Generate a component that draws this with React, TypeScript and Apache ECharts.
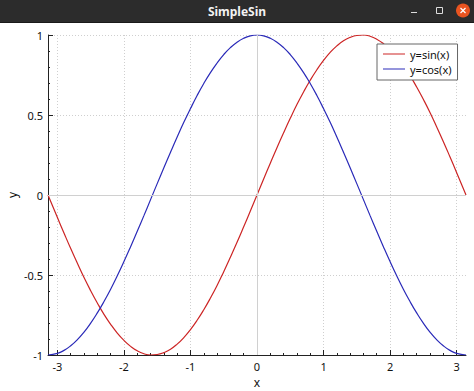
import React, { useEffect, useRef } from "react";
import * as echarts from "echarts";

// Sample points
const xValues = [
  -3.1416, -3.0, -2.9, -2.8, -2.7, -2.6, -2.5, -2.4, -2.3, -2.2, -2.1, -2.0, -1.9, -1.8, -1.7, -1.6,
  -1.5, -1.4, -1.3, -1.2, -1.1, -1.0, -0.9, -0.8, -0.7, -0.6, -0.5, -0.4, -0.3, -0.2, -0.1,
  0.0, 0.1, 0.2, 0.3, 0.4, 0.5, 0.6, 0.7, 0.8, 0.9, 1.0, 1.1, 1.2, 1.3, 1.4, 1.5,
  1.6, 1.7, 1.8, 1.9, 2.0, 2.1, 2.2, 2.3, 2.4, 2.5, 2.6, 2.7, 2.8, 2.9, 3.0, 3.1416,
];
const sinValues = [
  0.0, -0.141, -0.239, -0.335, -0.427, -0.516, -0.598, -0.675, -0.746, -0.808, -0.863, -0.909, -0.946, -0.974, -0.992, -1.0,
  -0.997, -0.985, -0.964, -0.932, -0.891, -0.841, -0.783, -0.717, -0.644, -0.565, -0.479, -0.389, -0.296, -0.199, -0.1,
  0.0, 0.1, 0.199, 0.296, 0.389, 0.479, 0.565, 0.644, 0.717, 0.783, 0.841, 0.891, 0.932, 0.964, 0.985, 0.997,
  1.0, 0.992, 0.974, 0.946, 0.909, 0.863, 0.808, 0.746, 0.675, 0.598, 0.516, 0.427, 0.335, 0.239, 0.141, 0.0,
];
const cosValues = [
  -1.0, -0.99, -0.971, -0.942, -0.904, -0.857, -0.801, -0.737, -0.666, -0.589, -0.505, -0.416, -0.323, -0.227, -0.129, -0.029,
  0.071, 0.17, 0.267, 0.362, 0.454, 0.54, 0.622, 0.697, 0.765, 0.825, 0.878, 0.921, 0.955, 0.98, 0.995,
  1.0, 0.995, 0.98, 0.955, 0.921, 0.878, 0.825, 0.765, 0.697, 0.622, 0.54, 0.454, 0.362, 0.267, 0.17, 0.071,
  -0.029, -0.129, -0.227, -0.323, -0.416, -0.505, -0.589, -0.666, -0.737, -0.801, -0.857, -0.904, -0.942, -0.971, -0.99, -1.0,
];
const seriesNames = ["y=sin(x)", "y=cos(x)"];
const xTickValues = [-3, -2, -1, 0, 1, 2, 3];
const xMinorTickValues = [
  -2.8, -2.6, -2.4, -2.2, -1.8, -1.6, -1.4, -1.2, -0.8, -0.6, -0.4, -0.2,
  0.2, 0.4, 0.6, 0.8, 1.2, 1.4, 1.6, 1.8, 2.2, 2.4, 2.6, 2.8,
];
const windowTitle = "SimpleSin";

const FONT = "Noto Sans";

export default function App() {
  const ref = useRef<HTMLDivElement>(null);

  useEffect(() => {
    if (!ref.current) return;
    const chart = echarts.init(ref.current, null, { renderer: "svg" });
    const gridLine = { show: true, lineStyle: { color: "#cfcfcf", type: [1, 2], width: 1 } };
    chart.setOption({
      animation: false,
      backgroundColor: "#ffffff",
      grid: { left: 48, top: 35, right: 8, bottom: 36, containLabel: false, outerBoundsMode: "none" },
      legend: {
        data: seriesNames,
        orient: "vertical",
        left: 377,
        top: 44,
        padding: [3, 6, 4, 6],
        itemGap: 1,
        itemWidth: 22,
        itemHeight: 1,
        icon: "rect",
        backgroundColor: "#ffffff",
        borderColor: "#666666",
        borderWidth: 1,
        borderRadius: 0,
        textStyle: { fontFamily: FONT, fontSize: 11, color: "#111", lineHeight: 14 },
      },
      xAxis: [
        {
          type: "value",
          min: xValues[0],
          max: xValues[xValues.length - 1],
          name: "x",
          nameLocation: "middle",
          nameGap: 20,
          nameMoveOverlap: false,
          nameTextStyle: { fontFamily: FONT, fontSize: 12, color: "#111", lineHeight: 14 },
          axisLine: { onZero: false, lineStyle: { color: "#222", width: 1 } },
          axisTick: { show: true, inside: true, length: 5, customValues: xTickValues, lineStyle: { color: "#222" } },
          axisLabel: { customValues: xTickValues, fontFamily: FONT, fontSize: 11, color: "#111", margin: 5, lineHeight: 12 },
          splitLine: gridLine,
        },
        {
          type: "value",
          min: xValues[0],
          max: xValues[xValues.length - 1],
          position: "bottom",
          axisLine: { show: false, onZero: false },
          axisTick: { show: true, inside: true, length: 2, customValues: xMinorTickValues, lineStyle: { color: "#222" } },
          axisLabel: { show: false },
          splitLine: { show: false },
        },
      ],
      yAxis: {
        type: "value",
        min: -1,
        max: 1,
        interval: 0.5,
        name: "y",
        nameLocation: "middle",
        nameGap: 30,
        nameMoveOverlap: false,
        nameTextStyle: { fontFamily: FONT, fontSize: 12, color: "#111" },
        axisLine: { show: true, onZero: false, lineStyle: { color: "#222", width: 1 } },
        axisTick: { show: true, inside: true, length: 5, lineStyle: { color: "#222" } },
        minorTick: { show: true, splitNumber: 5, length: 2, lineStyle: { color: "#222" } },
        axisLabel: { fontFamily: FONT, fontSize: 11, color: "#111", margin: 5 },
        splitLine: gridLine,
      },
      series: [
        {
          type: "line",
          name: "zero",
          data: [],
          silent: true,
          z: 1,
          markLine: {
            silent: true,
            symbol: "none",
            label: { show: false },
            lineStyle: { type: "solid", color: "#d0d0d0", width: 1 },
            data: [{ xAxis: 0 }, { yAxis: 0 }],
          },
        },
        {
          type: "line",
          name: seriesNames[0],
          data: xValues.map((x, i) => [x, sinValues[i]]),
          smooth: true,
          showSymbol: false,
          z: 3,
          lineStyle: { color: "#cc2424", width: 1.2 },
          itemStyle: { color: "#cc2424" },
        },
        {
          type: "line",
          name: seriesNames[1],
          data: xValues.map((x, i) => [x, cosValues[i]]),
          smooth: true,
          showSymbol: false,
          z: 3,
          lineStyle: { color: "#2a2ab8", width: 1.2 },
          itemStyle: { color: "#2a2ab8" },
        },
      ],
      graphic: [
        { type: "rect", left: 0, top: 0, shape: { width: 474, height: 22 }, style: { fill: "#2c2c2c" }, z: 100 },
        { type: "rect", left: 0, top: 22, shape: { width: 474, height: 1 }, style: { fill: "#1a1a1a" }, z: 100 },
        {
          type: "text",
          x: 237,
          y: 11,
          style: {
            text: windowTitle,
            fill: "#f2f2f2",
            font: `bold 12px "${FONT}"`,
            align: "center",
            verticalAlign: "middle",
          },
          z: 101,
        },
        { type: "rect", shape: { x: 411, y: 12, width: 6, height: 1 }, style: { fill: "#dddddd" }, z: 101 },
        { type: "rect", shape: { x: 436.5, y: 7.5, width: 6, height: 6 }, style: { fill: "none", stroke: "#dddddd", lineWidth: 1 }, z: 101 },
        { type: "circle", shape: { cx: 463, cy: 10.5, r: 7 }, style: { fill: "#e95420" }, z: 101 },
        { type: "line", shape: { x1: 460.5, y1: 8, x2: 465.5, y2: 13 }, style: { stroke: "#ffffff", lineWidth: 1.3 }, z: 102 },
        { type: "line", shape: { x1: 465.5, y1: 8, x2: 460.5, y2: 13 }, style: { stroke: "#ffffff", lineWidth: 1.3 }, z: 102 },
      ],
    });
    return () => chart.dispose();
  }, []);

  return (
    <div
      ref={ref}
      style={{ position: "absolute", left: 0, top: 0, width: 474, height: 391, background: "#fff" }}
    />
  );
}
